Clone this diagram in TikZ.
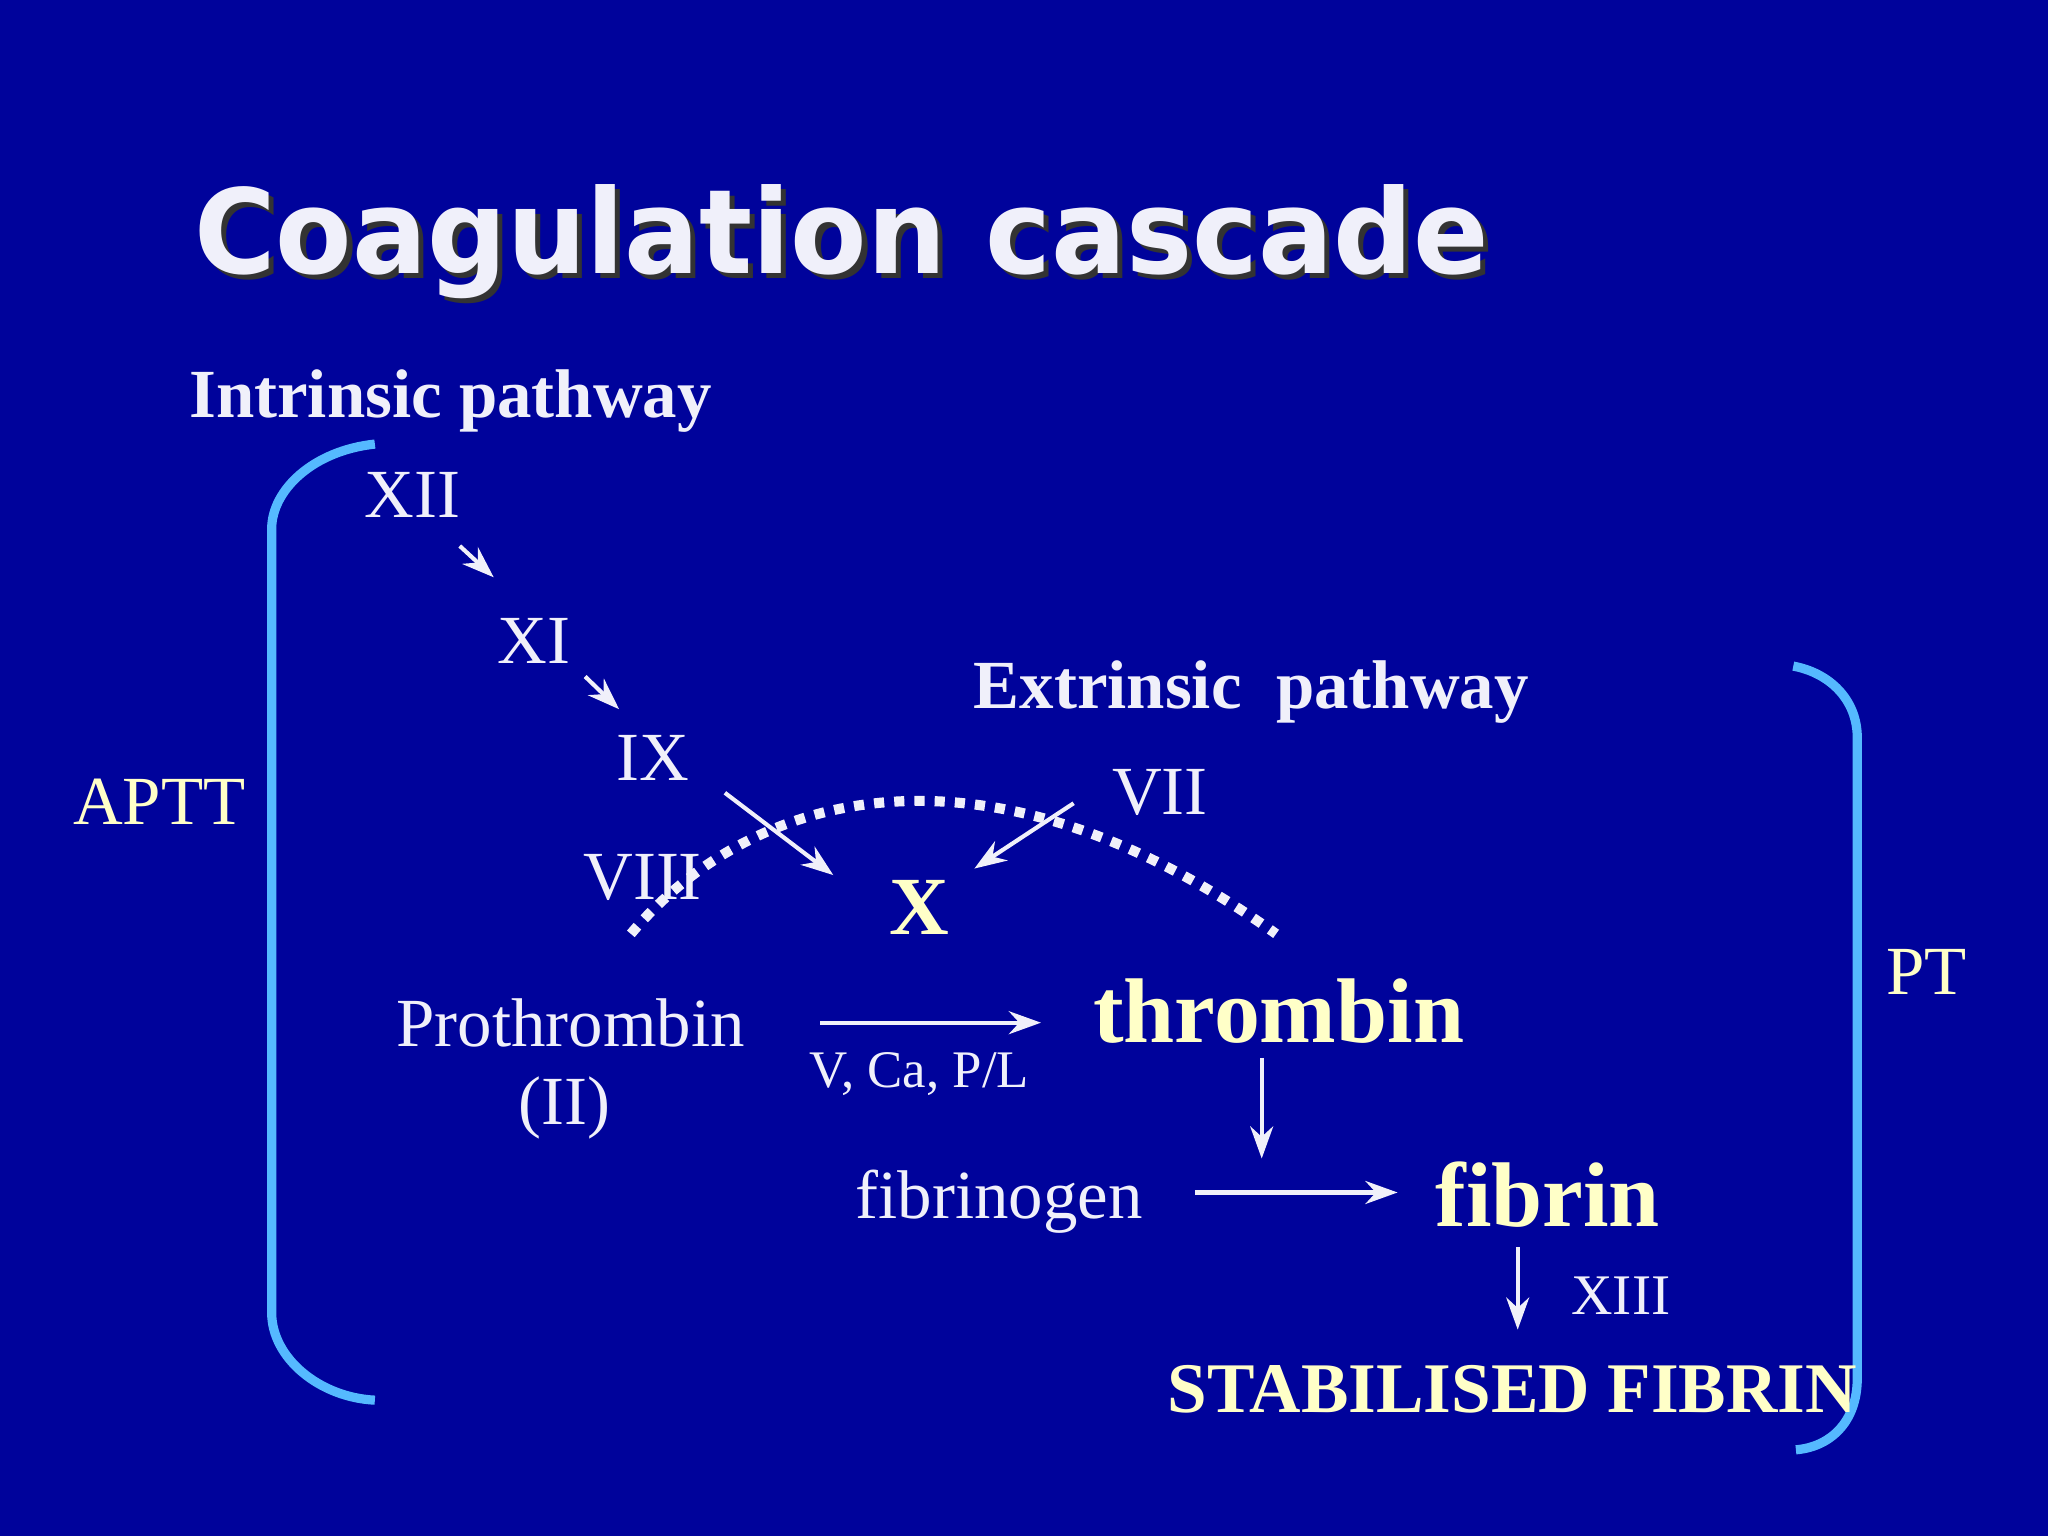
\documentclass[tikz,border=0pt]{standalone}
\usepackage{fontspec}
\setmainfont{Liberation Serif}
\newfontfamily\titlefont{DejaVu Sans}
\usetikzlibrary{arrows.meta}
\definecolor{bg}{RGB}{0,3,155}
\definecolor{brk}{RGB}{85,185,255}
\definecolor{pale}{RGB}{255,255,200}
\definecolor{wt}{RGB}{240,240,250}
\tikzset{
 lbl/.style={text=wt,inner sep=0pt},
 ylbl/.style={text=pale,inner sep=0pt},
 arr/.style={draw=wt,line width=0.9pt,-{Stealth[length=7pt,width=5pt]}},
 brack/.style={draw=brk,line width=2pt},
}
\begin{document}
\begin{tikzpicture}[x=0.01cm,y=-0.01cm]
\fill[bg] (0,0) rectangle (1568,1176);
\useasboundingbox (0,0) rectangle (1568,1176);
% title
\node[text=black!80,anchor=west,inner sep=0pt,xscale=0.95] at (152,189) {\titlefont\fontsize{25.5}{30}\selectfont\bfseries Coagulation cascade};
\node[text=wt,anchor=west,inner sep=0pt,xscale=0.95] (title) at (148,185) {\titlefont\fontsize{25.5}{30}\selectfont\bfseries Coagulation cascade};
% brackets
\draw[brack] (287,340) .. controls (240,345) and (208,375) .. (208,405) -- (208,1005) .. controls (208,1040) and (245,1070) .. (287,1072);
\draw[brack] (1373,510) .. controls (1400,515) and (1422,535) .. (1422,565) -- (1422,1055) .. controls (1422,1090) and (1400,1108) .. (1375,1110);
% dotted arc
\draw[wt,line width=2.2pt,dash pattern=on 2.2pt off 2.2pt] (483,715) .. controls (580,600) and (760,560) .. (977,715);
% texts
\node[lbl] (intr) at (345,307) {\fontsize{15}{18}\selectfont\bfseries Intrinsic pathway};
\node[lbl] (xii) at (316,379) {\fontsize{15}{18}\selectfont XII};
\node[lbl] (xi) at (409,491) {\fontsize{15}{18}\selectfont XI};
\node[lbl] (ix) at (500,580) {\fontsize{15}{18}\selectfont IX};
\node[lbl] (viii) at (492,672) {\fontsize{15}{18}\selectfont VIII};
\node[ylbl] (x) at (704,695) {\fontsize{18}{22}\selectfont\bfseries X};
\node[lbl] (extr) at (958,530) {\fontsize{15}{18}\selectfont\bfseries Extrinsic\ \ pathway};
\node[lbl] (vii) at (888,607) {\fontsize{15}{18}\selectfont VII};
\node[ylbl] (aptt) at (122,614) {\fontsize{15}{18}\selectfont APTT};
\node[ylbl] (pt) at (1475,744) {\fontsize{15}{18}\selectfont PT};
\node[lbl] (pro) at (437,783) {\fontsize{15}{18}\selectfont Prothrombin};
\node[lbl] (ii) at (432,848) {\fontsize{15}{18}\selectfont (II)};
\node[lbl] (vca) at (704,822) {\fontsize{11.5}{14}\selectfont V, Ca, P/L};
\node[ylbl] (thr) at (979,774) {\fontsize{20}{24}\selectfont\bfseries thrombin};
\node[lbl] (fbg) at (765,920) {\fontsize{15}{18}\selectfont fibrinogen};
\node[ylbl] (fib) at (1185,915) {\fontsize{20}{24}\selectfont\bfseries fibrin};
\node[lbl] (xiii) at (1241,992) {\fontsize{12.5}{15}\selectfont XIII};
\node[ylbl] (stab) at (1158,1064) {\fontsize{15.5}{18}\selectfont\bfseries STABILISED FIBRIN};
% arrows
\coordinate (a1) at (352,418); \coordinate (a2) at (378,442);
\coordinate (b1) at (448,518); \coordinate (b2) at (474,543);
\coordinate (c1) at (555,607); \coordinate (c2) at (638,670);
\coordinate (d1) at (822,615); \coordinate (d2) at (746,665);
\coordinate (e1) at (628,783); \coordinate (e2) at (797,783);
\coordinate (f1) at (966,810); \coordinate (f2) at (966,887);
\coordinate (g1) at (915,913); \coordinate (g2) at (1070,913);
\coordinate (h1) at (1162,955); \coordinate (h2) at (1162,1018);
\draw[arr] (a1) -- (a2);
\draw[arr] (b1) -- (b2);
\draw[arr] (c1) -- (c2);
\draw[arr] (d1) -- (d2);
\draw[arr] (e1) -- (e2);
\draw[arr] (f1) -- (f2);
\draw[arr] (g1) -- (g2);
\draw[arr] (h1) -- (h2);
\end{tikzpicture}
\end{document}
